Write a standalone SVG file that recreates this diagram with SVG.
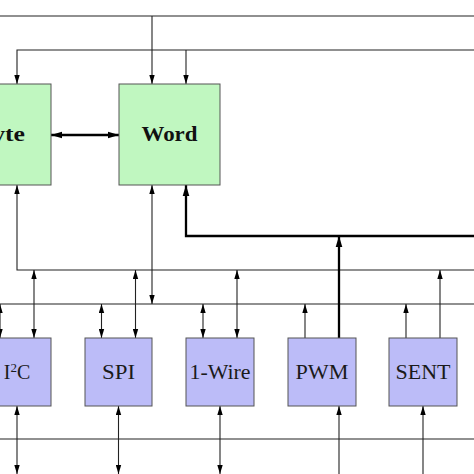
<svg xmlns="http://www.w3.org/2000/svg" width="474" height="474" viewBox="0 0 474 474">
<style>
.bg{fill:#ffffff}
.g{fill:#c0f7c0;stroke:#555555;stroke-width:1}
.b{fill:#bcbcf8;stroke:#555555;stroke-width:1}
.w{stroke:#222222;stroke-width:1.1;fill:none}
.t{stroke:#000;stroke-width:2.3;fill:none}
.a{marker-end:url(#ah)}
.aa{marker-start:url(#ah);marker-end:url(#ah)}
.ta{marker-end:url(#th)}
.taa{marker-start:url(#th);marker-end:url(#th)}
.lbl{font-family:"Liberation Serif","DejaVu Serif",serif;font-size:20px;fill:#1a1a1a;text-anchor:middle}
.bold{font-weight:bold;font-size:20px;fill:#111}
</style>
<defs>
<marker id="ah" viewBox="0 0 10 6" refX="10" refY="3" markerWidth="9" markerHeight="6" markerUnits="userSpaceOnUse" orient="auto-start-reverse"><path d="M0,0 L10,3 L0,6 z" fill="#000"/></marker>
<marker id="th" viewBox="0 0 10 6" refX="10" refY="3" markerWidth="11" markerHeight="8" markerUnits="userSpaceOnUse" orient="auto-start-reverse"><path d="M0,0 L10,3 L0,6 z" fill="#000"/></marker>
</defs>
<rect class="bg" x="0" y="0" width="474" height="474"/>
<g id="connectors">
<path class="w" d="M0,16 H474"/>
<path class="w a" d="M474,50 H17 V84"/>
<path class="w a" d="M186,50 V84"/>
<path class="w a" d="M152,16 V84"/>
<path class="t ta" d="M474,236 H186 V185"/>
<path class="w a" d="M474,270 H17 V185"/>
<path class="w" d="M0,304 H474"/>
<path class="w" d="M0,439 H474"/>
<path class="w aa" d="M152,185 V304"/>
<path class="t taa" d="M51,135 H119"/>
<path class="w aa" d="M0,304 V338"/>
<path class="w aa" d="M34,270 V338"/>
<path class="w aa" d="M101.5,304 V338"/>
<path class="w aa" d="M135.5,270 V338"/>
<path class="w aa" d="M203,304 V338"/>
<path class="w aa" d="M237,270 V338"/>
<path class="w a" d="M305,338 V304"/>
<path class="t ta" d="M339,338 V236"/>
<path class="w a" d="M406,338 V304"/>
<path class="w a" d="M440,338 V270"/>
<path class="w aa" d="M17,406 V474"/>
<path class="w aa" d="M118.5,406 V474"/>
<path class="w aa" d="M220,406 V474"/>
<path class="w a" d="M339,474 V406"/>
<path class="w a" d="M423,474 V406"/>
</g>
<g id="byte">
<rect class="g" x="-51" y="84" width="102" height="101"/>
<text class="lbl bold" x="0" y="141" textLength="50" lengthAdjust="spacingAndGlyphs">Byte</text>
</g>
<g id="word">
<rect class="g" x="119" y="84" width="101" height="101"/>
<text class="lbl bold" x="169.5" y="141" textLength="56" lengthAdjust="spacingAndGlyphs">Word</text>
</g>
<g id="i2c">
<rect class="b" x="-17" y="338" width="68" height="68"/>
<text class="lbl" x="17" y="379">I<tspan font-size="13" dy="-7">2</tspan><tspan dy="7">C</tspan></text>
</g>
<g id="spi">
<rect class="b" x="85" y="338" width="67" height="68"/>
<text class="lbl" x="118.5" y="379" textLength="33" lengthAdjust="spacingAndGlyphs">SPI</text>
</g>
<g id="onewire">
<rect class="b" x="186" y="338" width="68" height="68"/>
<text class="lbl" x="220" y="379" textLength="61" lengthAdjust="spacingAndGlyphs">1-Wire</text>
</g>
<g id="pwm">
<rect class="b" x="288" y="338" width="68" height="68"/>
<text class="lbl" x="322" y="379" textLength="53" lengthAdjust="spacingAndGlyphs">PWM</text>
</g>
<g id="sent">
<rect class="b" x="389" y="338" width="68" height="68"/>
<text class="lbl" x="423" y="379" textLength="55" lengthAdjust="spacingAndGlyphs">SENT</text>
</g>
</svg>
